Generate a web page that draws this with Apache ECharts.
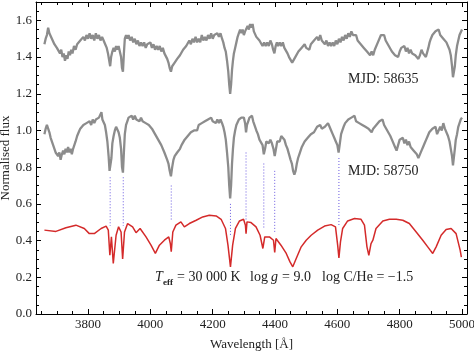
<!DOCTYPE html>
<html>
<head>
  <meta charset="utf-8">
  <script src="https://cdn.jsdelivr.net/npm/echarts@6/dist/echarts.min.js"></script>
  <style>
    html, body { margin: 0; padding: 0; background: #fff; }
    #main { width: 474px; height: 351px; }
  </style>
</head>
<body>
  <div id="main"></div>
  <script>
    // MJD 58635 spectrum (upper)
    var wl58635 = [3660, 3664, 3668, 3672, 3676, 3680, 3684, 3688, 3692, 3696, 3700, 3705, 3710, 3714, 3718, 3722, 3726, 3730, 3734, 3738,
      3742, 3746, 3750, 3755, 3760, 3765, 3770, 3775, 3780, 3785, 3790, 3795, 3800, 3805, 3810, 3815, 3820, 3825, 3830, 3835,
      3840, 3845, 3850, 3855, 3860, 3864, 3868, 3871, 3874, 3878, 3882, 3886, 3890, 3894, 3898, 3902, 3906, 3909, 3912, 3915,
      3918, 3922, 3926, 3930, 3935, 3940, 3945, 3950, 3955, 3960, 3965, 3970, 3975, 3980, 3985, 3990, 3995, 4000, 4005, 4010,
      4015, 4020, 4025, 4030, 4035, 4040, 4045, 4050, 4054, 4058, 4062, 4066, 4070, 4074, 4078, 4082, 4086, 4090, 4095, 4100,
      4105, 4110, 4115, 4120, 4125, 4130, 4135, 4140, 4145, 4150, 4155, 4160, 4165, 4170, 4175, 4180, 4185, 4190, 4195, 4200,
      4205, 4210, 4215, 4220, 4225, 4230, 4234, 4238, 4242, 4246, 4250, 4253, 4256, 4259, 4262, 4265, 4268, 4272, 4276, 4280,
      4284, 4288, 4292, 4296, 4300, 4304, 4308, 4312, 4316, 4320, 4324, 4328, 4332, 4336, 4340, 4345, 4350, 4355, 4360, 4365,
      4370, 4375, 4380, 4385, 4390, 4394, 4398, 4402, 4406, 4410, 4415, 4420, 4425, 4430, 4435, 4440, 4445, 4450, 4455, 4460,
      4465, 4470, 4475, 4480, 4485, 4490, 4495, 4500, 4505, 4510, 4515, 4520, 4525, 4530, 4535, 4540, 4545, 4550, 4555, 4560,
      4565, 4570, 4575, 4580, 4585, 4590, 4595, 4600, 4605, 4610, 4615, 4620, 4625, 4630, 4635, 4640, 4645, 4650, 4655, 4660,
      4665, 4670, 4675, 4680, 4685, 4690, 4695, 4700, 4705, 4710, 4715, 4720, 4725, 4730, 4735, 4740, 4745, 4750, 4755, 4760,
      4765, 4770, 4775, 4780, 4785, 4790, 4795, 4800, 4805, 4810, 4815, 4820, 4825, 4830, 4835, 4840, 4845, 4850, 4855, 4860,
      4865, 4870, 4875, 4880, 4884, 4888, 4892, 4896, 4900, 4905, 4910, 4915, 4920, 4925, 4930, 4935, 4940, 4945, 4950, 4955,
      4960, 4964, 4968, 4971, 4974, 4977, 4980, 4984, 4988, 4992, 4996, 5000];
    var fx58635 = [1.47, 1.50, 1.52, 1.56, 1.53, 1.54, 1.50, 1.51, 1.47, 1.48, 1.45, 1.46, 1.42, 1.44, 1.40, 1.42, 1.38, 1.41, 1.39, 1.43,
      1.41, 1.44, 1.42, 1.46, 1.44, 1.47, 1.46, 1.49, 1.48, 1.51, 1.49, 1.52, 1.50, 1.53, 1.50, 1.52, 1.49, 1.53, 1.50, 1.52,
      1.49, 1.51, 1.49, 1.47, 1.45, 1.42, 1.38, 1.35, 1.40, 1.43, 1.45, 1.43, 1.46, 1.44, 1.46, 1.43, 1.40, 1.34, 1.32, 1.42,
      1.50, 1.52, 1.50, 1.52, 1.49, 1.51, 1.48, 1.50, 1.47, 1.49, 1.46, 1.48, 1.46, 1.48, 1.45, 1.47, 1.46, 1.48, 1.45, 1.47,
      1.44, 1.46, 1.44, 1.46, 1.43, 1.45, 1.42, 1.43, 1.39, 1.37, 1.34, 1.32, 1.35, 1.34, 1.37, 1.36, 1.39, 1.38, 1.41, 1.40,
      1.44, 1.43, 1.46, 1.45, 1.49, 1.47, 1.50, 1.48, 1.51, 1.48, 1.50, 1.48, 1.52, 1.49, 1.51, 1.49, 1.52, 1.50, 1.53, 1.50,
      1.52, 1.51, 1.53, 1.51, 1.53, 1.50, 1.48, 1.45, 1.43, 1.38, 1.32, 1.25, 1.20, 1.25, 1.33, 1.38, 1.42, 1.45, 1.48, 1.51,
      1.53, 1.55, 1.53, 1.55, 1.52, 1.54, 1.55, 1.57, 1.55, 1.58, 1.56, 1.58, 1.54, 1.55, 1.51, 1.52, 1.49, 1.50, 1.46, 1.48,
      1.46, 1.48, 1.46, 1.49, 1.47, 1.44, 1.42, 1.46, 1.48, 1.46, 1.48, 1.46, 1.48, 1.45, 1.44, 1.42, 1.40, 1.40, 1.37, 1.38,
      1.40, 1.41, 1.43, 1.42, 1.45, 1.44, 1.47, 1.45, 1.46, 1.44, 1.47, 1.46, 1.49, 1.48, 1.51, 1.49, 1.52, 1.49, 1.50, 1.47,
      1.49, 1.46, 1.48, 1.46, 1.48, 1.46, 1.49, 1.47, 1.50, 1.48, 1.51, 1.49, 1.52, 1.50, 1.53, 1.51, 1.54, 1.52, 1.51, 1.52,
      1.49, 1.50, 1.47, 1.48, 1.45, 1.46, 1.43, 1.44, 1.41, 1.43, 1.41, 1.44, 1.45, 1.48, 1.49, 1.52, 1.51, 1.52, 1.49, 1.50,
      1.46, 1.47, 1.43, 1.44, 1.41, 1.42, 1.40, 1.43, 1.45, 1.44, 1.46, 1.43, 1.45, 1.42, 1.44, 1.42, 1.43, 1.41, 1.42, 1.39,
      1.41, 1.44, 1.42, 1.43, 1.40, 1.41, 1.45, 1.48, 1.50, 1.52, 1.51, 1.54, 1.53, 1.55, 1.52, 1.53, 1.50, 1.51, 1.48, 1.47,
      1.44, 1.41, 1.35, 1.29, 1.28, 1.35, 1.41, 1.46, 1.49, 1.52, 1.53, 1.55];

    // MJD 58750 spectrum (middle)
    var wl58750 = [3660, 3664, 3668, 3672, 3676, 3680, 3684, 3688, 3692, 3696, 3700, 3704, 3708, 3712, 3716, 3720, 3724, 3728, 3732, 3736,
      3740, 3744, 3748, 3752, 3756, 3760, 3765, 3770, 3775, 3780, 3785, 3790, 3795, 3800, 3805, 3810, 3815, 3820, 3825, 3830,
      3835, 3840, 3843, 3846, 3850, 3854, 3858, 3862, 3866, 3869, 3872, 3875, 3878, 3882, 3886, 3890, 3894, 3898, 3902, 3906,
      3909, 3912, 3915, 3918, 3922, 3926, 3930, 3935, 3940, 3945, 3950, 3955, 3960, 3965, 3970, 3975, 3980, 3985, 3990, 3995,
      4000, 4005, 4010, 4015, 4020, 4025, 4030, 4035, 4040, 4045, 4050, 4054, 4058, 4062, 4066, 4070, 4074, 4078, 4082, 4086,
      4090, 4095, 4100, 4105, 4110, 4115, 4120, 4125, 4130, 4135, 4140, 4145, 4150, 4155, 4160, 4165, 4170, 4175, 4180, 4185,
      4190, 4195, 4200, 4205, 4210, 4215, 4220, 4225, 4230, 4234, 4238, 4242, 4246, 4250, 4253, 4256, 4259, 4262, 4265, 4268,
      4272, 4276, 4280, 4284, 4288, 4292, 4296, 4300, 4304, 4307, 4310, 4314, 4318, 4322, 4326, 4330, 4335, 4340, 4345, 4350,
      4355, 4360, 4364, 4368, 4372, 4376, 4380, 4385, 4390, 4395, 4399, 4403, 4407, 4411, 4415, 4420, 4425, 4430, 4435, 4440,
      4445, 4450, 4454, 4458, 4462, 4466, 4470, 4474, 4478, 4482, 4486, 4490, 4495, 4500, 4505, 4510, 4515, 4520, 4525, 4530,
      4535, 4540, 4545, 4550, 4555, 4560, 4565, 4570, 4575, 4580, 4585, 4590, 4595, 4600, 4604, 4608, 4612, 4616, 4620, 4625,
      4630, 4635, 4640, 4645, 4650, 4655, 4660, 4665, 4670, 4675, 4680, 4685, 4690, 4695, 4700, 4705, 4710, 4715, 4720, 4725,
      4730, 4735, 4740, 4745, 4750, 4755, 4760, 4765, 4770, 4775, 4780, 4785, 4790, 4795, 4800, 4805, 4810, 4815, 4820, 4825,
      4830, 4835, 4840, 4845, 4850, 4855, 4860, 4865, 4870, 4875, 4880, 4885, 4890, 4895, 4900, 4905, 4910, 4915, 4920, 4925,
      4930, 4935, 4940, 4945, 4950, 4955, 4960, 4964, 4968, 4971, 4974, 4977, 4980, 4984, 4988, 4992, 4996, 5000];
    var fx58750 = [0.98, 1.01, 1.03, 1.01, 0.99, 0.96, 0.95, 0.92, 0.91, 0.88, 0.89, 0.86, 0.88, 0.84, 0.87, 0.89, 0.87, 0.90, 0.88, 0.91,
      0.88, 0.90, 0.87, 0.90, 0.92, 0.94, 0.97, 0.99, 1.01, 1.00, 1.03, 1.02, 1.04, 1.03, 1.05, 1.03, 1.06, 1.04, 1.06, 1.05,
      1.07, 1.06, 1.10, 1.06, 1.05, 1.03, 0.99, 0.94, 0.86, 0.78, 0.77, 0.85, 0.93, 0.97, 1.00, 1.02, 1.01, 0.99, 0.96, 0.90,
      0.80, 0.77, 0.88, 0.98, 1.03, 1.05, 1.07, 1.06, 1.08, 1.06, 1.08, 1.06, 1.07, 1.05, 1.07, 1.05, 1.06, 1.04, 1.05, 1.03,
      1.04, 1.01, 1.00, 0.98, 0.97, 0.95, 0.94, 0.92, 0.91, 0.88, 0.87, 0.84, 0.82, 0.78, 0.75, 0.80, 0.84, 0.86, 0.85, 0.88,
      0.87, 0.90, 0.92, 0.93, 0.95, 0.94, 0.97, 0.96, 0.99, 0.98, 1.00, 1.01, 1.00, 1.03, 1.02, 1.04, 1.03, 1.05, 1.04, 1.06,
      1.05, 1.07, 1.05, 1.06, 1.04, 1.06, 1.04, 1.06, 1.04, 1.02, 0.99, 0.95, 0.88, 0.80, 0.70, 0.63, 0.70, 0.82, 0.90, 0.96,
      1.00, 1.03, 1.04, 1.06, 1.05, 1.07, 1.06, 1.07, 1.04, 0.99, 1.03, 1.05, 1.07, 1.06, 1.08, 1.05, 1.04, 1.00, 0.98, 0.95,
      0.94, 0.92, 0.87, 0.90, 0.94, 0.95, 0.93, 0.95, 0.93, 0.90, 0.86, 0.90, 0.94, 0.95, 0.94, 0.97, 0.96, 0.95, 0.92, 0.90,
      0.87, 0.84, 0.82, 0.78, 0.76, 0.78, 0.82, 0.85, 0.87, 0.89, 0.91, 0.92, 0.94, 0.93, 0.96, 0.95, 0.98, 0.97, 0.99, 1.00,
      1.02, 1.01, 1.03, 1.01, 1.00, 1.02, 1.01, 1.04, 1.02, 1.00, 0.98, 0.96, 0.94, 0.92, 0.88, 0.93, 0.98, 1.00, 1.02, 1.04,
      1.05, 1.06, 1.05, 1.07, 1.06, 1.08, 1.05, 1.06, 1.04, 1.05, 1.03, 1.04, 1.02, 1.03, 1.01, 1.00, 0.99, 1.01, 1.02, 1.03,
      1.02, 1.05, 1.04, 1.06, 1.03, 1.02, 1.00, 0.99, 0.97, 0.95, 0.94, 0.91, 0.89, 0.92, 0.95, 0.94, 0.96, 0.93, 0.95, 0.92,
      0.94, 0.91, 0.92, 0.89, 0.90, 0.87, 0.85, 0.87, 0.89, 0.91, 0.93, 0.95, 0.97, 0.99, 0.98, 1.01, 1.00, 1.02, 0.98, 0.99,
      1.02, 1.00, 1.04, 1.01, 1.00, 0.97, 0.94, 0.90, 0.86, 0.81, 0.82, 0.90, 0.95, 0.98, 1.02, 1.04, 1.06, 1.07];

    // model spectrum (red)
    var wlModel = [3660, 3697, 3729, 3761, 3788, 3804, 3820, 3842, 3858, 3865, 3870, 3875, 3881, 3890, 3898, 3906, 3911, 3917, 3927, 3943,
      3954, 3967, 3986, 4002, 4016, 4029, 4045, 4059, 4064, 4067, 4072, 4082, 4098, 4109, 4125, 4147, 4168, 4189, 4211, 4227,
      4241, 4249, 4257, 4264, 4273, 4286, 4299, 4305, 4307, 4310, 4323, 4339, 4352, 4361, 4367, 4382, 4395, 4399, 4403, 4419,
      4436, 4448, 4457, 4468, 4484, 4500, 4516, 4537, 4559, 4580, 4594, 4601, 4605, 4610, 4617, 4633, 4655, 4676, 4687, 4695,
      4701, 4708, 4714, 4724, 4746, 4767, 4789, 4810, 4831, 4853, 4874, 4890, 4906, 4917, 4933, 4949, 4965, 4981, 4994, 4998];
    var fxModel = [0.457, 0.45, 0.47, 0.484, 0.466, 0.438, 0.438, 0.466, 0.479, 0.457, 0.32, 0.42, 0.275, 0.429, 0.475, 0.447, 0.30, 0.447, 0.493, 0.475,
      0.443, 0.466, 0.42, 0.375, 0.33, 0.375, 0.402, 0.42, 0.384, 0.339, 0.447, 0.484, 0.502, 0.475, 0.493, 0.511, 0.529, 0.538, 0.534, 0.516,
      0.466, 0.375, 0.257, 0.375, 0.466, 0.507, 0.516, 0.484, 0.438, 0.502, 0.498, 0.475, 0.429, 0.357, 0.42, 0.42, 0.402, 0.335, 0.411, 0.375,
      0.33, 0.284, 0.257, 0.302, 0.366, 0.402, 0.429, 0.457, 0.479, 0.487, 0.475, 0.375, 0.306, 0.393, 0.466, 0.507, 0.52, 0.516, 0.484, 0.366,
      0.32, 0.384, 0.402, 0.466, 0.507, 0.516, 0.516, 0.511, 0.493, 0.447, 0.402, 0.366, 0.33, 0.366, 0.429, 0.46, 0.466, 0.438, 0.348, 0.31];

    // dotted line markers
    var markWl = [3871, 3913, 4067, 4257, 4307, 4364, 4399, 4605];
    var markTop = [0.745, 0.745, 0.70, 0.60, 0.88, 0.82, 0.78, 0.85];
    var markBottom = [0.48, 0.48, 0.51, 0.43, 0.51, 0.465, 0.438, 0.484];

    var xTicks = [3800, 4000, 4200, 4400, 4600, 4800, 5000];
    var yTicks = [0.0, 0.2, 0.4, 0.6, 0.8, 1.0, 1.2, 1.4, 1.6];

    var xMin = 3633, xMax = 5016, yMin = 0, yMax = 1.7;
    var serif = 'Liberation Serif';

    function zip(a, b) {
      var out = [];
      for (var i = 0; i < a.length; i++) out.push([a[i], b[i]]);
      return out;
    }

    var markData = [];
    for (var i = 0; i < markWl.length; i++) {
      markData.push([markWl[i], markTop[i]]);
      markData.push([markWl[i], markBottom[i]]);
      markData.push([markWl[i], null]);
    }

    var xMinor = [], yMinor = [];
    for (var v = 3650; v <= 5000; v += 50) xMinor.push(v);
    for (var k = 1; k <= 34; k++) yMinor.push(+(k * 0.05).toFixed(2));

    function xAxisDef(pos, ticks, len, labels, line) {
      return {
        type: 'value', position: pos, min: xMin, max: xMax,
        axisLine: { show: line, onZero: false, lineStyle: { color: '#000', width: 1 } },
        splitLine: { show: false },
        axisTick: { show: true, inside: true, length: len, customValues: ticks, lineStyle: { color: '#000' } },
        axisLabel: { show: labels, customValues: ticks, color: '#222', fontFamily: serif, fontSize: 13, margin: 4,
          formatter: function (v) { return String(v); } },
        name: labels ? 'Wavelength [Å]' : '',
        nameLocation: 'middle', nameGap: 24, nameMoveOverlap: false,
        nameTextStyle: { fontFamily: serif, fontSize: 13, color: '#222' }
      };
    }
    function yAxisDef(pos, ticks, len, labels, line) {
      return {
        type: 'value', position: pos, min: yMin, max: yMax,
        axisLine: { show: line, onZero: false, lineStyle: { color: '#000', width: 1 } },
        splitLine: { show: false },
        axisTick: { show: true, inside: true, length: len, customValues: ticks, lineStyle: { color: '#000' } },
        axisLabel: { show: labels, customValues: ticks, color: '#222', fontFamily: serif, fontSize: 13, margin: 4,
          formatter: function (v) { return v.toFixed(1); } },
        name: labels ? 'Normalised flux' : '',
        nameLocation: 'middle', nameGap: 24, nameRotate: 90, nameMoveOverlap: false,
        nameTextStyle: { fontFamily: serif, fontSize: 13, color: '#222' }
      };
    }

    var myChart = echarts.init(document.getElementById('main'), null, { renderer: 'canvas' });

    var option = {
      animation: false,
      backgroundColor: '#fff',
      grid: { left: 36, right: 7, top: 2, bottom: 37, containLabel: false, outerBoundsMode: 'none' },
      xAxis: [
        xAxisDef('bottom', xTicks, 5, true, true),
        xAxisDef('top', xTicks, 5, false, true),
        xAxisDef('bottom', xMinor, 3, false, false),
        xAxisDef('top', xMinor, 3, false, false)
      ],
      yAxis: [
        yAxisDef('left', yTicks, 5, true, true),
        yAxisDef('right', yTicks, 5, false, true),
        yAxisDef('left', yMinor, 3, false, false),
        yAxisDef('right', yMinor, 3, false, false)
      ],
      series: [
        {
          name: 'dots', type: 'line', data: markData, showSymbol: false, connectNulls: false,
          lineStyle: { color: '#6a5ae0', width: 1, type: [1, 2] }, z: 1
        },
        {
          name: 'MJD 58635', type: 'line', data: zip(wl58635, fx58635), showSymbol: false,
          lineStyle: { color: '#8c8c8c', width: 2.3 }, z: 2
        },
        {
          name: 'MJD 58750', type: 'line', data: zip(wl58750, fx58750), showSymbol: false,
          lineStyle: { color: '#8c8c8c', width: 2.3 }, z: 2
        },
        {
          name: 'model', type: 'line', data: zip(wlModel, fxModel), showSymbol: false,
          lineStyle: { color: '#d42a2a', width: 1.5 }, z: 3
        }
      ],
      graphic: [
        { type: 'text', left: 348, top: 72, style: { text: 'MJD: 58635', font: '14px "Liberation Serif"', fill: '#222' } },
        { type: 'text', left: 348, top: 164, style: { text: 'MJD: 58750', font: '14px "Liberation Serif"', fill: '#222' } },
        { type: 'text', left: 155, top: 270, style: { text: 'T', font: 'italic 14px "Liberation Serif"', fill: '#222' } },
        { type: 'text', left: 163, top: 278, style: { text: 'eff', font: 'bold 9px "Liberation Serif"', fill: '#222' } },
        { type: 'text', left: 177, top: 270, style: { text: '= 30 000 K', font: '14px "Liberation Serif"', fill: '#222' } },
        { type: 'text', left: 250, top: 270, style: { text: 'log', font: '14px "Liberation Serif"', fill: '#222' } },
        { type: 'text', left: 271, top: 270, style: { text: 'g', font: 'italic 14px "Liberation Serif"', fill: '#222' } },
        { type: 'text', left: 282, top: 270, style: { text: '= 9.0', font: '14px "Liberation Serif"', fill: '#222' } },
        { type: 'text', left: 322, top: 270, style: { text: 'log C/He = −1.5', font: '14px "Liberation Serif"', fill: '#222' } }
      ]
    };

    myChart.setOption(option);
  </script>
</body>
</html>
